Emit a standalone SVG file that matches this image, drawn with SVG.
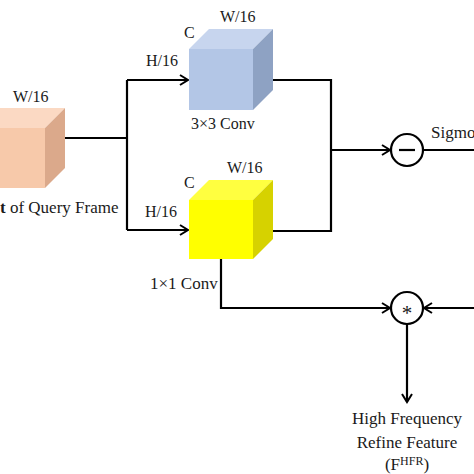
<svg xmlns="http://www.w3.org/2000/svg" width="474" height="474" viewBox="0 0 474 474">
<style>
text{font-family:"Liberation Serif","Times New Roman",serif;font-size:16px;fill:#1a1a1a}
.big{font-size:17px}
.ln{fill:none;stroke:#000;stroke-width:2.2}
.op{fill:#fff;stroke:#000;stroke-width:2.2}
</style>
<defs>
<marker id="arr" viewBox="0 0 12 12" refX="10" refY="6" markerWidth="12" markerHeight="12" markerUnits="userSpaceOnUse" orient="auto">
<path d="M2,1 L10,6 L2,11" fill="none" stroke="#000" stroke-width="2"/>
</marker>
</defs>
<rect width="474" height="474" fill="#fff"/>
<g id="connectors">
<path class="ln" d="M65,138 H127"/>
<path class="ln" d="M127,80 V230"/>
<path class="ln" d="M127,80 H188" marker-end="url(#arr)"/>
<path class="ln" d="M127,230 H188" marker-end="url(#arr)"/>
<path class="ln" d="M273,80 H331 V231 H273"/>
<path class="ln" d="M331,150 H390" marker-end="url(#arr)"/>
<path class="ln" d="M423,150 H474"/>
<path class="ln" d="M221,259 V308 H390" marker-end="url(#arr)"/>
<path class="ln" d="M474,308 H424" marker-end="url(#arr)"/>
<path class="ln" d="M407,324 V402" marker-end="url(#arr)"/>
</g>
<g id="query-feature">
<polygon points="-20,128 0,108 65,108 45,128" fill="#fbd9c3"/>
<polygon points="45,128 65,108 65,168 45,188" fill="#dba98b"/>
<rect x="-20" y="128" width="65" height="60" fill="#f7c9aa"/>
<text x="13" y="102">W/16</text>
<text x="0" y="213" class="big"><tspan font-weight="bold">t</tspan> of Query Frame</text>
</g>
<g id="conv3x3">
<polygon points="189,49 209,29 273,29 253,49" fill="#c7d5ee"/>
<polygon points="253,49 273,29 273,90 253,110" fill="#8ea2c3"/>
<rect x="189" y="49" width="64" height="61" fill="#b3c6e6"/>
<text x="184" y="38">C</text>
<text x="220" y="22">W/16</text>
<text x="146" y="66">H/16</text>
<text x="191" y="129">3×3 Conv</text>
</g>
<g id="conv1x1">
<polygon points="189,200 209,180 273,180 253,200" fill="#ffff40"/>
<polygon points="253,200 273,180 273,239 253,259" fill="#d6d200"/>
<rect x="189" y="200" width="64" height="59" fill="#ffff00"/>
<text x="184" y="188">C</text>
<text x="227" y="173">W/16</text>
<text x="145" y="217">H/16</text>
<text x="150" y="289" class="big">1×1 Conv</text>
</g>
<g id="subtract">
<circle class="op" cx="407" cy="150" r="16"/>
<path class="ln" d="M399,150 H415"/>
<text x="431" y="138" class="big">Sigmo</text>
</g>
<g id="multiply">
<circle class="op" cx="407" cy="308" r="16"/>
<text x="407" y="320" text-anchor="middle" style="font-size:21px">*</text>
</g>
<g id="output">
<text x="407" y="424" text-anchor="middle" class="big">High Frequency</text>
<text x="407" y="448" text-anchor="middle" class="big">Refine Feature</text>
<text x="407" y="470" text-anchor="middle" class="big">(F<tspan font-size="12" dy="-5">HFR</tspan><tspan dy="5">)</tspan></text>
</g>
</svg>
